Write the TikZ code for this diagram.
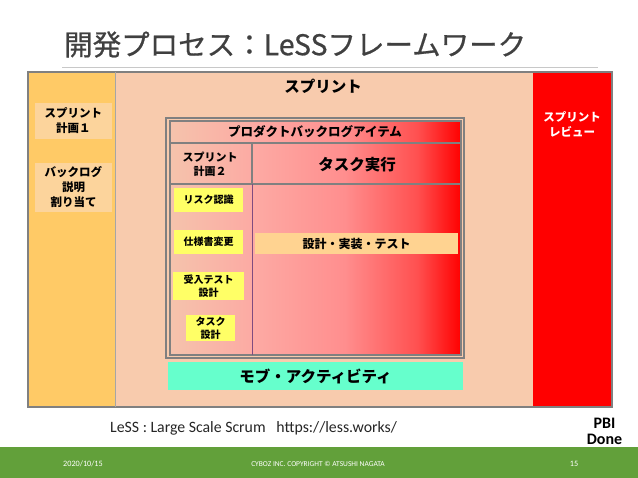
\documentclass[tikz,border=0pt]{standalone}
\usepackage{fontspec}
\setmainfont{Carlito}
\newfontfamily\jp{Noto Sans CJK JP}
\newfontfamily\jpt[FakeBold=0.6]{Noto Sans CJK JP}
\definecolor{titlegray}{RGB}{64,64,64}
\definecolor{lineg}{RGB}{200,200,200}
\definecolor{frameg}{RGB}{128,128,128}
\definecolor{colorange}{RGB}{255,202,102}
\definecolor{peach}{RGB}{248,203,173}
\definecolor{lightor}{RGB}{252,212,156}
\definecolor{yel}{RGB}{255,255,102}
\definecolor{impl}{RGB}{255,211,145}
\definecolor{mob}{RGB}{102,255,204}
\definecolor{footg}{RGB}{98,160,58}
\definecolor{g0}{RGB}{245,195,172}
\definecolor{g1}{RGB}{253,169,163}
\definecolor{g2}{RGB}{255,142,142}
\definecolor{g3}{RGB}{255,80,80}
\pgfdeclarehorizontalshading{pbi}{100bp}{color(0bp)=(g0); color(25bp)=(g0); color(40bp)=(g1); color(55bp)=(g2); color(67.5bp)=(g3); color(75bp)=(red); color(100bp)=(red)}
\tikzset{
  jlab/.style={font=\jp\bfseries, align=center, inner sep=0pt},
  foot/.style={text=white, inner sep=0pt, font=\fontsize{7.5}{9}\selectfont},
}
\begin{document}
\begin{tikzpicture}[x=1pt,y=-1pt]
\useasboundingbox (0,0) rectangle (638,478);
\fill[white] (0,0) rectangle (638,478);
% title
\node[font=\jpt\fontsize{28.5}{31}\selectfont, text=titlegray, anchor=west, inner sep=0pt] (title) at (64,44.5) {開発プロセス：LeSSフレームワーク};
\draw[lineg, line width=0.8pt] (62,67.5) -- (598,67.5);
% columns
\fill[colorange] (28,72) rectangle (115,407);
\fill[peach] (115,72) rectangle (533,407);
\fill[red] (533,72) rectangle (612,407);
\draw[frameg, line width=2.5pt] (28,72) rectangle (612,407);
\draw[frameg!70, line width=0.6pt] (115,72) -- (115,407);
\node[jlab, font=\jp\bfseries\fontsize{15.5}{18}\selectfont] (sprint) at (323,86) {スプリント};
% left boxes
\fill[lightor] (35,103) rectangle (112,139);
\node[jlab, font=\jp\bfseries\fontsize{11.5}{15}\selectfont] (plan1) at (73.5,121) {スプリント\\計画１};
\fill[lightor] (35,163) rectangle (112,212);
\node[jlab, font=\jp\bfseries\fontsize{11.5}{15}\selectfont] (backlog) at (73.5,187.5) {バックログ\\説明\\割り当て};
% review
\node[jlab, text=white, font=\jp\bfseries\fontsize{11.5}{15}\selectfont] (review) at (572,124) {スプリント\\レビュー};
% PBI inner frame
\shade[shading=pbi] (170,121) rectangle (461,355);
\draw[frameg, line width=1.8pt] (166,118) rectangle (464,358);
\draw[frameg, line width=1.2pt] (170,121) rectangle (461,355);
\draw[frameg, line width=1.2pt] (170,143) -- (461,143);
\draw[frameg, line width=1.2pt] (170,184) -- (461,184);
\draw[frameg, line width=1.2pt] (252,143) -- (252,184);
\draw[violet!40!gray, line width=0.5pt] (252,184) -- (252,355);
\node[jlab, font=\jp\bfseries\fontsize{12.5}{15}\selectfont] (pbi) at (315,132) {プロダクトバックログアイテム};
\node[jlab, font=\jp\bfseries\fontsize{11}{14}\selectfont] (plan2) at (210,164) {スプリント\\計画２};
\node[jlab, font=\jp\bfseries\fontsize{15.5}{18}\selectfont] (task) at (357,165) {タスク実行};
% yellow boxes
\fill[yel] (174,188) rectangle (243,212);
\node[jlab, font=\jp\bfseries\fontsize{10}{13}\selectfont] (risk) at (208.5,200) {リスク認識};
\fill[yel] (174,230) rectangle (243,254);
\node[jlab, font=\jp\bfseries\fontsize{10}{13}\selectfont] (spec) at (208.5,242) {仕様書変更};
\fill[yel] (173,272) rectangle (244,300);
\node[jlab, font=\jp\bfseries\fontsize{10}{13}\selectfont] (accept) at (208.5,286) {受入テスト\\設計};
\fill[yel] (186,315) rectangle (235,341);
\node[jlab, font=\jp\bfseries\fontsize{10}{13}\selectfont] (tdesign) at (210.5,328) {タスク\\設計};
\fill[impl] (255,233) rectangle (458,254);
\node[jlab, font=\jp\bfseries\fontsize{12}{15}\selectfont] (impltxt) at (356.5,243.5) {設計・実装・テスト};
% mob
\fill[mob] (168,362) rectangle (463,390);
\node[jlab, font=\jp\bfseries\fontsize{15.5}{18}\selectfont] (mobtxt) at (315.5,376) {モブ・アクティビティ};
% bottom texts
\node[anchor=west, inner sep=0pt, font=\fontsize{15.8}{18}\selectfont, text=black!85] (less) at (110,428) {LeSS : Large Scale Scrum\ \ \ https://less.works/};
\node[align=center, inner sep=0pt, font=\bfseries\fontsize{16}{16}\selectfont] (done) at (604.5,431) {PBI\\Done};
% footer
\fill[footg] (0,447) rectangle (638,478);
\node[foot, font=\fontsize{8.2}{9}\selectfont] (date) at (83,464) {2020/10/15};
\node[foot] (copy) at (318,464) {CYBOZ INC. COPYRIGHT © ATSUSHI NAGATA};
\node[foot, font=\fontsize{8.2}{9}\selectfont] (page) at (574,464) {15};
\end{tikzpicture}
\end{document}
